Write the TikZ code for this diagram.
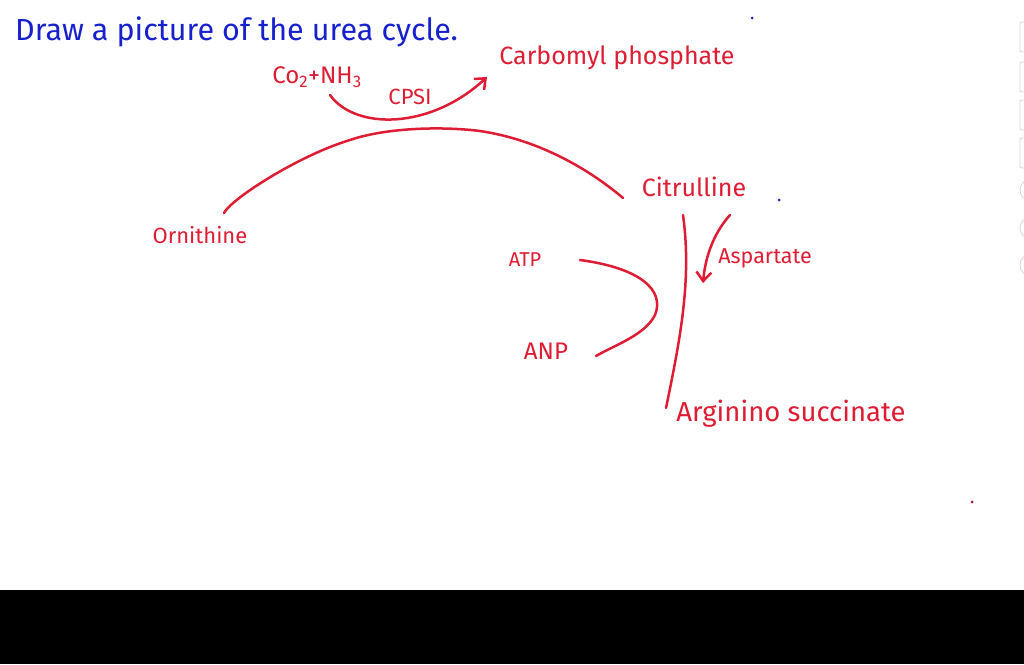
\documentclass[tikz,border=0pt]{standalone}
\usepackage{fontspec}
\setmainfont{Fira Sans}
\usetikzlibrary{arrows.meta}
\definecolor{ink}{RGB}{222,28,52}
\definecolor{pen}{RGB}{22,32,205}
\definecolor{ui}{RGB}{215,215,215}
\tikzset{
  lbl/.style={text=ink, inner sep=0pt, font=\fontsize{21}{24}\selectfont},
  stroke/.style={draw=ink, line width=2.5pt, line cap=round, line join=round},
  tip/.style={-{Straight Barb[length=9pt,width=15pt,line width=2.5pt]}}
}
\begin{document}
\begin{tikzpicture}[x=1pt,y=-1pt]
\fill[white] (0,0) rectangle (1024,664);
\useasboundingbox (0,0) rectangle (1024,664);
\fill[black] (0,590) rectangle (1024,664);
% faint toolbar at right edge
\foreach \y in {22,62,100,138}{\draw[ui,line width=0.8pt,rounded corners=2pt] (1020,\y) rectangle (1030,\y+30);}
\foreach \y in {190,228,265}{\draw[ui!70!pink,line width=0.8pt] (1031,\y) circle (11);}
% title
\node[anchor=base west, text=pen, inner sep=0pt, font=\fontsize{30.5}{34}\selectfont] (title) at (15,40) {Draw a picture of the urea cycle.};
\fill[pen] (752,18) circle (1.5);
\fill[pen] (779,200) circle (1.5);
\fill[ink!70!black] (972,502) circle (1.5);
% labels
\node[lbl, font=\fontsize{24}{27}\selectfont] (co2) at (317,77) {Co\textsubscript{2}+NH\textsubscript{3}};
\node[lbl, font=\fontsize{22}{25}\selectfont] (cps) at (410,97) {CPSI};
\node[lbl, font=\fontsize{25}{29}\selectfont] (carb) at (617,58) {Carbomyl phosphate};
\node[lbl, font=\fontsize{22}{25}\selectfont] (orn) at (200,235) {Ornithine};
\node[lbl, font=\fontsize{25}{28}\selectfont] (cit) at (694,187) {Citrulline};
\node[lbl, font=\fontsize{20}{23}\selectfont] (atp) at (525,260) {ATP};
\node[lbl, font=\fontsize{24}{27}\selectfont] (anp) at (546,351) {ANP};
\node[lbl, font=\fontsize{21.5}{25}\selectfont] (asp) at (765,258) {Aspartate};
\node[lbl, font=\fontsize{27.5}{31}\selectfont] (arg) at (791,414) {Arginino succinate};
% connector end points
\coordinate (c1) at (330,95);
\coordinate (c2) at (487,77);
\coordinate (o1) at (224,213);
\coordinate (o2) at (623,198);
\coordinate (a1) at (580,260);
\coordinate (a2) at (596,356);
\coordinate (v1) at (683,215);
\coordinate (v2) at (666,408);
\coordinate (s1) at (730,215);
\coordinate (s2) at (703,283);
% connectors
\draw[stroke,tip] (c1) .. controls (355,130) and (430,130) .. (c2);
\draw[stroke] (o1) .. controls (232,198) and (300,155) .. (350,140) .. controls (385,128) and (440,126) .. (480,131) .. controls (540,140) and (590,170) .. (o2);
\draw[stroke] (a1) .. controls (640,268) and (665,290) .. (655,315) .. controls (645,335) and (615,345) .. (a2);
\draw[stroke] (v1) .. controls (692,280) and (680,340) .. (v2);
\draw[stroke,tip] (s1) .. controls (712,235) and (705,260) .. (s2);
\end{tikzpicture}
\end{document}
